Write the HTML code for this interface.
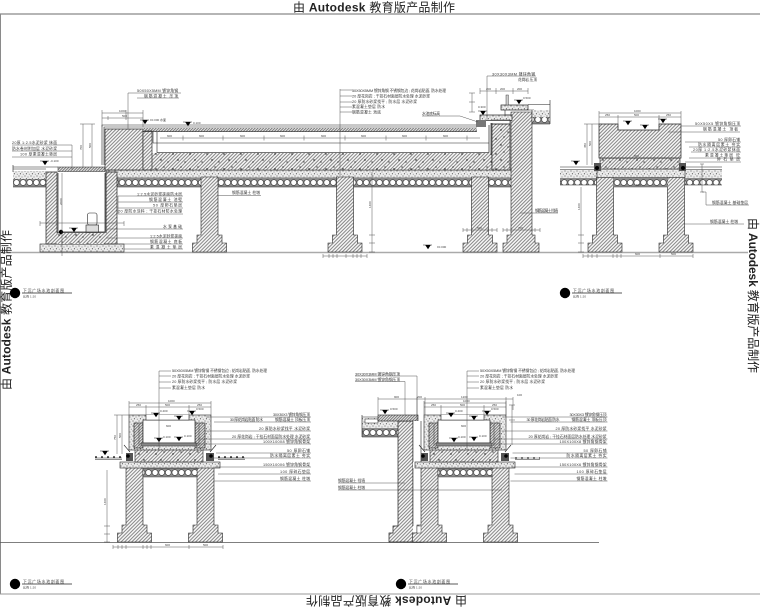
<!DOCTYPE html>
<html lang="zh"><head><meta charset="utf-8"><title>Section details</title>
<style>
html,body{margin:0;padding:0;background:#fff}
svg{display:block}
text{font-family:"Liberation Sans","Noto Sans CJK SC",sans-serif}
.l{font-size:3.8px;fill:#333}
.n{font-size:3px;fill:#444}
.w{font-size:12px;fill:#222}
.w tspan.b{font-weight:bold}
.k{fill:none;stroke:#222;stroke-width:.6}
.t{fill:none;stroke:#444;stroke-width:.45}
</style></head><body>
<svg xmlns="http://www.w3.org/2000/svg" width="760" height="608" viewBox="0 0 760 608">
<defs>
<pattern id="h" width="2" height="2" patternUnits="userSpaceOnUse" patternTransform="rotate(-45)"><rect width="2" height="2" fill="#e8e8e8"/><line x1="0" y1="1" x2="2" y2="1" stroke="#4a4a4a" stroke-width=".7"/></pattern>
<pattern id="hw" width="2.5" height="2.5" patternUnits="userSpaceOnUse" patternTransform="rotate(-45)"><rect width="2.5" height="2.5" fill="#f6f6f6"/><line x1="0" y1="1" x2="2.5" y2="1" stroke="#4a4a4a" stroke-width=".65"/></pattern>
<pattern id="d" width="6" height="5" patternUnits="userSpaceOnUse"><rect width="6" height="5" fill="#ececec"/><circle cx="1" cy="1" r=".55" fill="#333"/><circle cx="4" cy="2" r=".45" fill="#555"/><circle cx="2.4" cy="3.8" r=".55" fill="#333"/><circle cx="5.2" cy="4.2" r=".4" fill="#444"/></pattern>
<pattern id="s" width="17" height="15" patternUnits="userSpaceOnUse"><circle cx="3" cy="4" r=".7" fill="#111"/><circle cx="11" cy="2" r=".6" fill="#111"/><circle cx="8" cy="10" r=".7" fill="#111"/><circle cx="15" cy="12" r=".6" fill="#111"/></pattern>
<pattern id="g1" width="6.6" height="9" patternUnits="userSpaceOnUse" patternTransform="translate(0 178)"><rect width="6.6" height="9" fill="#8c8c8c"/><circle cx="3.3" cy="4.5" r="2.9" fill="#fff" stroke="#222" stroke-width=".5"/></pattern>
<pattern id="g2" width="6.6" height="9" patternUnits="userSpaceOnUse" patternTransform="translate(0 468)"><rect width="6.6" height="9" fill="#8c8c8c"/><circle cx="3.3" cy="4.5" r="2.9" fill="#fff" stroke="#222" stroke-width=".5"/></pattern>
<pattern id="g3" width="6.6" height="9" patternUnits="userSpaceOnUse" patternTransform="translate(0 428)"><rect width="6.6" height="9" fill="#8c8c8c"/><circle cx="3.3" cy="4.5" r="2.9" fill="#fff" stroke="#222" stroke-width=".5"/></pattern>
<g id="m"><path d="M-5 -3H4" stroke="#222" stroke-width=".5"/><polygon points="-2.8,-3 2.8,-3 0,1.2" fill="#000"/></g>
<g id="col"><path d="M-8.5 0H8.5V58L12.5 58V66H17V75H-17V66H-12.5V58H-8.5Z" fill="url(#hw)" stroke="#222" stroke-width=".6"/></g>
<g id="box">
<use href="#col" x="134.5" y="467"/><use href="#col" x="205.5" y="467"/>
<rect x="143" y="468" width="54" height="9" fill="url(#g2)" stroke="#222" stroke-width=".4"/>
<rect x="120" y="462" width="100" height="6" fill="url(#d)" stroke="#222" stroke-width=".6"/>
<rect x="135" y="448" width="68" height="14" fill="url(#hw)" stroke="#222" stroke-width=".6"/><rect x="135" y="448" width="68" height="14" fill="url(#s)"/>
<rect x="129" y="415" width="82" height="35" fill="url(#d)" stroke="#222" stroke-width=".6"/>
<rect x="134" y="423" width="9" height="25" fill="url(#h)" stroke="#333" stroke-width=".7"/>
<rect x="195" y="423" width="10" height="25" fill="url(#h)" stroke="#333" stroke-width=".7"/>
<rect x="143" y="420" width="52" height="23" fill="#fff" stroke="#222" stroke-width=".7"/>
<rect x="146" y="415" width="43" height="5" fill="#fff"/><path d="M146 415V420H189V415" class="k"/>
<rect x="141" y="443" width="56" height="3" fill="#888" stroke="#222" stroke-width=".4"/>
<rect x="126" y="453" width="7" height="8" fill="#555"/><rect x="206" y="453" width="8" height="8" fill="#555"/>
<circle cx="128" cy="456" r="1.8" fill="#000"/><circle cx="211" cy="456" r="1.8" fill="#000"/>
<path d="M124 445L130 452M216 445L210 452" class="k"/>
<path d="M139 424V446M199 424V446" stroke="#222" stroke-width=".4"/>
<use href="#m" x="156" y="416"/><use href="#m" x="179" y="419"/><use href="#m" x="192" y="414"/><use href="#m" x="159" y="441"/><use href="#m" x="179" y="440"/>
<text class="n" x="160" y="412">0.400</text><text class="n" x="196" y="410">0.500</text><text class="n" x="163" y="438">0.100</text><text class="n" x="184" y="437">0.100</text>
<path d="M129 403H211M129 407H211M129 401V415M146 405V415M189 405V415M211 401V415" class="t"/>
<text class="n" x="168" y="402">1000</text><text class="n" x="136" y="406">250</text><text class="n" x="165" y="406">500</text><text class="n" x="197" y="406">250</text><text class="n" x="166" y="427">600</text>
</g>
<g id="rlab">
<path d="M206 417H311M214 422H311M205 431H311M198 439H311M195 444H311M216 453H311M214 458H311M215 467H311M218 474H311M214 481H311" class="t"/>
<text class="l" x="273" y="416" textLength="37">30X30X3 镀锌角钢压顶</text>
<text class="l" x="275" y="421" textLength="35">钢筋混凝土 顶板压顶</text>
<text class="l" x="230" y="421" textLength="33">30 厚花岗岩贴面 防水</text>
<text class="l" x="259" y="430" textLength="51">20 厚防水砂浆找平 水泥砂浆</text>
<text class="l" x="232" y="438" textLength="78">20 厚花岗岩 ; 干挂石材面层防水处理 水泥砂浆</text>
<text class="l" x="263" y="443" textLength="47">100X100X8 镀锌角钢骨架</text>
<text class="l" x="287" y="452" textLength="23">50 厚卵石铺</text>
<text class="l" x="270" y="457" textLength="40">防水隔离层素土 夯实</text>
<text class="l" x="263" y="466" textLength="47">150X100X6 镀锌角钢骨架</text>
<text class="l" x="280" y="473" textLength="30">100 厚碎石垫层</text>
<text class="l" x="280" y="480" textLength="30">钢筋混凝土 柱墩</text>
</g>
<g id="title"><circle cx="0" cy="0" r="5.2" fill="#000"/><path d="M7 0H57" stroke="#222" stroke-width=".7"/><text class="l" x="8" y="-1.2" textLength="41">下沉广场水池剖面图</text><text class="n" x="8" y="4.5" textLength="13">比例 1:20</text></g>
</defs>
<rect width="760" height="608" fill="#fff"/>

<path d="M0 14H760" stroke="#b5b5b5" stroke-width="2"/>
<path d="M.5 14V594" stroke="#8a8a8a" stroke-width="1"/>
<path d="M0 252.5H748" stroke="#aaa" stroke-width="1.4"/>
<path d="M0 542.5H599" stroke="#555" stroke-width=".8"/>
<path d="M0 594H760" stroke="#999" stroke-width="1"/>
<text class="w" x="293" y="11.5" textLength="162"><tspan>由 </tspan><tspan class="b">Autodesk</tspan><tspan> 教育版产品制作</tspan></text>
<text class="w" transform="translate(10.5 390) rotate(-90)" textLength="160"><tspan>由 </tspan><tspan class="b">Autodesk</tspan><tspan> 教育版产品制作</tspan></text>
<text class="w" transform="translate(749 218) rotate(90)" textLength="155"><tspan>由 </tspan><tspan class="b">Autodesk</tspan><tspan> 教育版产品制作</tspan></text>
<text class="w" transform="translate(467 596.5) rotate(180)" textLength="161"><tspan>由 </tspan><tspan class="b">Autodesk</tspan><tspan> 教育版产品制作</tspan></text>

<!-- DETAIL 1 -->
<g>
<rect x="13" y="171" width="33" height="16" fill="url(#d)"/><rect x="13" y="179" width="33" height="8" fill="url(#g1)"/>
<path d="M13 167H58M13 169H46M13 187H46" class="k"/><path d="M13 165V172" class="k"/>
<rect x="106" y="170" width="406" height="8" fill="url(#d)" stroke="#222" stroke-width=".6"/>
<rect x="117" y="178" width="395" height="9" fill="url(#g1)"/><path d="M117 187H512" class="k"/>
<use href="#col" x="209.5" y="177"/><use href="#col" x="345" y="177"/><use href="#col" x="480" y="177"/>
<path d="M511 112H532V235H535V243H539V252H503V243H507V235H511Z" fill="url(#hw)" stroke="#222" stroke-width=".6"/>
<rect x="40" y="244" width="84" height="8" fill="url(#d)" stroke="#222" stroke-width=".6"/>
<path d="M46 172H57V233H106V172H117V244H46Z" fill="url(#hw)" stroke="#222" stroke-width=".7"/>
<rect x="57" y="233" width="49" height="11" fill="url(#hw)"/><rect x="57" y="233" width="49" height="11" fill="url(#s)"/>
<rect x="58" y="167" width="47" height="4.5" fill="url(#h)" stroke="#222" stroke-width=".5"/>
<path d="M58 173V233M105 173V232M59 232H105" stroke="#222" stroke-width=".7" fill="none"/>
<path d="M106 172V233" stroke="#333" stroke-width=".8"/>
<rect x="87.5" y="213" width="9.5" height="12" rx="2" fill="#fff" stroke="#222" stroke-width=".6"/><rect x="86" y="225" width="12.5" height="7" fill="#ddd" stroke="#222" stroke-width=".6"/>
<circle cx="61" cy="232" r="2.2" fill="#000"/><use href="#m" x="74" y="231"/>
<path d="M40 223H124M40 221V226M124 221V226" class="t"/>
<path d="M62 173V256" class="t"/><text class="n" transform="translate(62 205) rotate(-90)">2000</text>
<rect x="105" y="129" width="38" height="41" fill="url(#hw)" stroke="#222" stroke-width=".7"/>
<rect x="143" y="153" width="350" height="17" fill="url(#hw)"/><rect x="143" y="153" width="350" height="17" fill="url(#s)"/>
<rect x="143" y="128" width="334" height="3.6" fill="url(#h)"/>
<rect x="143" y="131" width="9" height="39" fill="url(#hw)" stroke="#333" stroke-width=".7"/>
<path d="M102 165V125H477M104 165V127H477M143 131.6H477M153 132V143H489M157 132V152.6H489M143 170H512" class="k"/>
<path d="M489 152.6V125M491 155V123M492 123V170" stroke="#222" stroke-width=".7" fill="none"/>
<rect x="492" y="124" width="18" height="46" fill="url(#hw)" stroke="#222" stroke-width=".7"/><rect x="492" y="124" width="18" height="46" fill="url(#s)"/>
<rect x="480" y="115" width="32" height="5.4" fill="url(#d)" stroke="#222" stroke-width=".7"/>
<rect x="476" y="120" width="10" height="7" fill="#777"/>
<path d="M491 120H510V124H491" class="k"/>
<rect x="501" y="105" width="27" height="5" fill="url(#d)" stroke="#222" stroke-width=".7"/>
<path d="M528 104.500H550M528 110H534" class="k"/><path d="M505 110V115H511" class="k"/>
<rect x="506" y="95" width="2.4" height="10" fill="#ccc" stroke="#222" stroke-width=".4"/>
<rect x="532" y="110" width="18" height="8" fill="url(#d)"/><rect x="532" y="117" width="18" height="7" fill="url(#g1)"/>
<path d="M550 100V124M532 124H550M532 110V124" class="k"/>
<path d="M160 138H480M183 135.500V140.500M223 135.500V140.500M264 135.500V140.500M304 135.500V140.500M345 135.500V140.500M386 135.500V140.500M426 135.500V140.500M467 135.500V140.500" class="t"/>
<text class="n" x="167" y="137">600</text><text class="n" x="199" y="137">600</text><text class="n" x="240" y="137">600</text><text class="n" x="280" y="137">600</text><text class="n" x="321" y="137">600</text><text class="n" x="361" y="137">600</text><text class="n" x="402" y="137">600</text><text class="n" x="443" y="137">600</text>
<use href="#m" x="145" y="123"/><use href="#m" x="188" y="125"/><use href="#m" x="45" y="164"/><use href="#m" x="483" y="114"/><use href="#m" x="519" y="103"/>
<text class="n" x="150" y="121">±0.000 水面</text><text class="n" x="193" y="124">0.100</text><text class="n" x="50" y="162">-0.100</text><text class="n" x="478" y="108">0.300</text><text class="n" x="523" y="99">0.500</text>
<path d="M128 93H181M128 93V130M137 98H179" class="t"/>
<text class="l" x="137" y="92" textLength="41">50X50X5MM 镀锌角钢</text><text class="l" x="144" y="97.500" textLength="34">钢筋混凝土 压顶</text>
<path d="M102 113H143M102 118H143M102 110V127M143 110V127M108 116V120M126 110V120" class="t"/>
<text class="n" x="119" y="112">1000</text><text class="n" x="122" y="117">500</text>
<path d="M80 124H95M83 124V167M92 124V167" class="t"/><text class="n" transform="translate(82 150) rotate(-90)">700</text><text class="n" transform="translate(91 148) rotate(-90)">500</text>
<path d="M12 145H72M12 151H72M12 157H72M72 145V170" class="t"/>
<text class="l" x="12" y="144" textLength="45">20厚 1:2.5水泥砂浆 抹面</text><text class="l" x="12" y="150" textLength="45">防水卷材附加层 水泥砂浆</text><text class="l" x="20" y="155.500" textLength="37">100 厚素混凝土垫层</text>
<path d="M118 196H183M118 202H183M118 208H183M118 214H183M118 196V214M106 229H183M106 238H183M106 244H183M124 249H183" class="t"/>
<text class="l" x="137" y="195.500" textLength="45">1:2.5水泥砂浆抹面防水层</text><text class="l" x="149" y="201" textLength="33">钢筋混凝土 池壁</text><text class="l" x="153" y="206.500" textLength="29">50 厚卵石垫层</text><text class="l" x="118" y="212.500" textLength="64">20 厚防水涂料 ; 干挂石材防水处理</text>
<text class="l" x="163" y="228" textLength="19">水泵基础</text><text class="l" x="150" y="237.500" textLength="32">1:2.5水泥砂浆抹面</text><text class="l" x="150" y="243" textLength="32">钢筋混凝土 底板</text><text class="l" x="150" y="248.500" textLength="32">素混凝土垫层</text>
<path d="M218 195.500H261" class="t"/><text class="l" x="232" y="194" textLength="28">钢筋混凝土 柱墩</text>
<path d="M340 89V176M340 90H352M340 96H352M340 102H352M340 107H352M340 112H352" class="t"/>
<text class="l" x="352" y="92" textLength="94">50X50X5MM 镀锌角钢 不锈钢包边 ; 花岗岩贴面, 防水处理</text>
<text class="l" x="352" y="97.500" textLength="78">20 厚花岗岩 ; 干挂石材面层防水处理 水泥砂浆</text>
<text class="l" x="352" y="103" textLength="65">20 厚防水砂浆找平 ; 防水层 水泥砂浆</text>
<text class="l" x="352" y="108" textLength="33">素混凝土垫层 防水</text>
<text class="l" x="352" y="113.500" textLength="29">钢筋混凝土 池底</text>
<path d="M422 116H460L478 122" class="t"/><text class="l" x="422" y="115" textLength="18">水池底标高</text>
<path d="M487 76V120M487 76H536" class="t"/>
<text class="l" x="492" y="75.500" textLength="43">30X30X3MM 镀锌角钢</text><text class="l" x="518" y="81" textLength="19">花岗岩 压顶</text>
<path d="M480 91H528M480 88V94M496 88V94M513 88V94M528 88V94" class="t"/><text class="n" x="486" y="90">200</text><text class="n" x="500" y="90">200</text><text class="n" x="517" y="90">200</text>
<path d="M472 93V112M469 93H475M469 102H475M469 112H475" class="t"/>
<path d="M372 172V252M369 235H375M369 243H375M369 252H375" class="t"/><text class="n" transform="translate(371 208) rotate(-90)">1400</text>
<path d="M323 256H367M323 254V258M329 254V258M333 254V258M337 254V258M346 254V258M353 254V258M357 254V258M361 254V258M367 254V258" class="t"/>
<use href="#m" x="428" y="248"/><text class="n" x="437" y="248">±0.000</text>
<path d="M463 230H497M463 228V232M467 228V232M472 228V232M488 228V232M492 228V232M497 228V232" class="t"/><text class="n" x="477" y="229">500</text>
<path d="M503 230H540M503 228V232M507 228V232M511 228V232M532 228V232M535 228V232M540 228V232" class="t"/><text class="n" x="518" y="229">700</text>
<path d="M520 213H558" class="t"/><text class="l" x="535" y="212" textLength="23">钢筋混凝土 挡墙</text>
<use href="#title" x="15" y="293"/>
</g>

<!-- DETAIL 2 -->
<g>
<rect x="560" y="170" width="37" height="8" fill="url(#d)"/><rect x="560" y="178" width="37" height="7" fill="url(#g1)"/>
<rect x="685" y="170" width="37" height="8" fill="url(#d)"/><rect x="685" y="178" width="37" height="7" fill="url(#g1)"/>
<path d="M560 167H597M560 169.500H597M560 185H597M685 167H722M685 169.500H722M685 185H722" class="k"/>
<use href="#col" x="605" y="177"/><use href="#col" x="676" y="177"/>
<rect x="613" y="178" width="55" height="9" fill="url(#g1)"/>
<rect x="597" y="169" width="88" height="8.500" fill="url(#d)" stroke="#222" stroke-width=".6"/>
<rect x="600" y="158" width="80" height="11" fill="url(#hw)" stroke="#222" stroke-width=".6"/><rect x="600" y="158" width="80" height="11" fill="url(#s)"/>
<path d="M599 124H618V130H659V124H681V158H599Z" fill="url(#hw)" stroke="#222" stroke-width=".7"/>
<rect x="594" y="163" width="7" height="8" fill="#555"/><rect x="679" y="163" width="7" height="8" fill="#555"/>
<circle cx="597" cy="168" r="2" fill="#000"/><circle cx="683" cy="168" r="2" fill="#000"/>
<path d="M599 113H681M599 117H681M599 111V124M618 115V130M659 115V130M681 111V124" class="t"/>
<text class="n" x="634" y="112">1000</text><text class="n" x="605" y="116">250</text><text class="n" x="634" y="116">500</text><text class="n" x="666" y="116">250</text><text class="n" x="634" y="157">800</text>
<use href="#m" x="628" y="124"/><use href="#m" x="645" y="128"/><use href="#m" x="663" y="122"/><use href="#m" x="576" y="164"/>
<path d="M584 124H599M587 124V165M592 124V165" class="t"/><text class="n" transform="translate(586 148) rotate(-90)">450</text><text class="n" transform="translate(591 146) rotate(-90)">500</text>
<path d="M681 126H741M668 132H740M685 142H741M689 147H741M691 152H741M689 158H741M685 162H741" class="t"/>
<text class="l" x="695" y="125" textLength="45">50X50X5 镀锌角钢压顶</text><text class="l" x="703" y="130.500" textLength="35">钢筋混凝土 顶板</text>
<text class="l" x="718" y="141" textLength="22">50 厚卵石铺</text><text class="l" x="698" y="146" textLength="42">防水隔离层素土 夯实</text><text class="l" x="693" y="151" textLength="47">20厚 1:2.5水泥砂浆抹面</text><text class="l" x="705" y="156.500" textLength="35">素混凝土垫层 砼</text><text class="l" x="717" y="160.500" textLength="23">碎石垫层</text>
<path d="M702 164V192M700 164H704M700 192H704M702 192H706V205H749" class="t"/><text class="l" x="712" y="204" textLength="36">钢筋混凝土 基础垫层</text>
<path d="M684 224H744" class="t"/><text class="l" x="710" y="223" textLength="28">钢筋混凝土 柱墩</text>
<path d="M583 256H693M583 254V258M588 254V258M592 254V258M597 254V258M613 254V258M617 254V258M621 254V258M660 254V258M693 254V258" class="t"/>
<text class="n" x="635" y="255">600</text><text class="n" x="671" y="255">500</text>
<path d="M581 187V252M578 235H584M578 243H584M578 252H584" class="t"/><text class="n" transform="translate(580 210) rotate(-90)">1400</text>
<path d="M613 187H668" class="t"/><text class="n" x="636" y="186">600</text>
<use href="#title" x="565" y="293"/>
</g>

<!-- DETAIL 3 -->
<g>
<path d="M95 458H122M218 458H245M95 459.500H122M218 459.500H245" class="k"/>
<path d="M95 457H122M218 457H245" stroke="#111" stroke-width="1.2" stroke-dasharray="2 4"/>
<use href="#m" x="105" y="454"/>
<use href="#box"/>
<use href="#rlab"/>
<path d="M159 371V450M159 371H171M159 376H171M159 382H171M159 388H171" class="t"/>
<text class="l" x="172" y="372" textLength="95">50X50X5MM 镀锌角钢 不锈钢包边 ; 花岗岩贴面, 防水处理</text>
<text class="l" x="172" y="377.500" textLength="78">20 厚花岗岩 ; 干挂石材面层防水处理 水泥砂浆</text>
<text class="l" x="172" y="383" textLength="65">20 厚防水砂浆找平 ; 防水层 水泥砂浆</text>
<text class="l" x="172" y="389" textLength="33">素混凝土垫层 防水</text>
<path d="M114 415H129M117 415V454M122 415V454" class="t"/><text class="n" transform="translate(116 440) rotate(-90)">750</text><text class="n" transform="translate(121 438) rotate(-90)">500</text>
<path d="M107 470V542M104 526H110M104 534H110M104 542H110" class="t"/><text class="n" transform="translate(106 505) rotate(-90)">1400</text>
<path d="M113 547H223M113 545V549M118 545V549M122 545V549M126 545V549M143 545V549M147 545V549M151 545V549M189 545V549M223 545V549" class="t"/><text class="n" x="165" y="546">600</text><text class="n" x="203" y="546">500</text>
<use href="#title" x="15" y="584"/>
</g>

<!-- DETAIL 4 -->
<g>
<rect x="362" y="418" width="36" height="10" fill="url(#d)"/><rect x="362" y="428" width="36" height="9" fill="url(#g3)"/>
<rect x="365" y="419" width="13" height="4" fill="#fff" stroke="#222" stroke-width=".5"/>
<path d="M362 415V437M362 437H398M362 417H378" class="k"/>
<path d="M398 421H413V526H417V533H422V542H389V533H393V526H398Z" fill="url(#hw)" stroke="#222" stroke-width=".7"/>
<rect x="378" y="415" width="40" height="6" fill="url(#h)" stroke="#222" stroke-width=".6"/>
<rect x="413" y="421" width="8" height="112" fill="#fff"/>
<path d="M413 468V526M421 421V468M413 421V462" class="k"/>
<rect x="413" y="533" width="10" height="9" fill="#888" stroke="#222" stroke-width=".5"/>
<g transform="translate(295 0)"><use href="#box"/></g>
<rect x="417" y="526" width="4" height="7" fill="#fff" stroke="#222" stroke-width=".4"/>
<path d="M515 458H540" stroke="#111" stroke-width="1.2" stroke-dasharray="2 4"/><path d="M515 459.500H540" class="k"/>
<use href="#m" x="385" y="413"/><text class="n" x="390" y="410">0.500</text>
<g transform="translate(296.500 0)"><use href="#rlab"/></g>
<path d="M467 371V450M467 371H479M467 376H479M467 382H479M467 388H479" class="t"/>
<text class="l" x="480" y="372" textLength="95">50X50X5MM 镀锌角钢 不锈钢包边 ; 花岗岩贴面, 防水处理</text>
<text class="l" x="480" y="377.500" textLength="78">20 厚花岗岩 ; 干挂石材面层防水处理 水泥砂浆</text>
<text class="l" x="480" y="383" textLength="65">20 厚防水砂浆找平 ; 防水层 水泥砂浆</text>
<text class="l" x="480" y="389" textLength="33">素混凝土垫层 防水</text>
<path d="M355 376H417V420M355 381.500H405V415" class="t"/>
<text class="l" x="355" y="375.500" textLength="45">30X30X3MM 镀锌角钢压顶</text><text class="l" x="355" y="381" textLength="45">30X30X3MM 镀锌角钢压顶</text>
<path d="M378 399H513M378 397V415M417 397V415M425 397V415M506 397V415M513 397V410" class="t"/>
<text class="n" x="394" y="398">900</text><text class="n" x="417" y="398">200</text><text class="n" x="461" y="398">1200</text><text class="n" x="517" y="396">100</text>
<path d="M512 405V445M509 405H515M509 420H515" class="t"/>
<path d="M338 483H405M338 490H502" class="t"/>
<text class="l" x="338" y="482" textLength="27">钢筋混凝土 挡墙</text><text class="l" x="338" y="489" textLength="27">钢筋混凝土 柱墩</text>
<use href="#title" x="401" y="584"/>
</g>
</svg>
</body></html>
